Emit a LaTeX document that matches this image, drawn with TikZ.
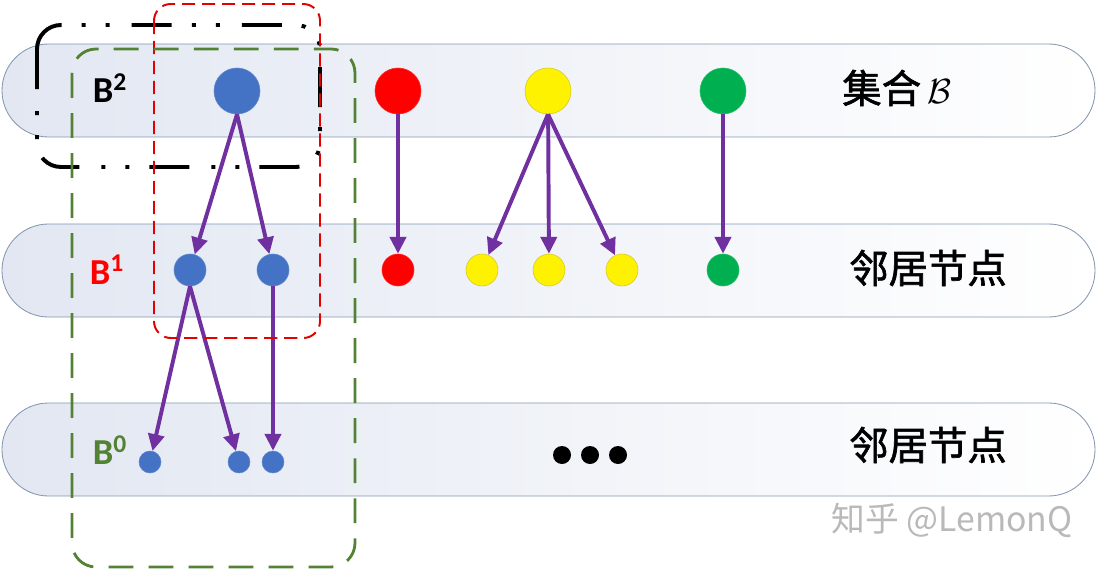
\documentclass[tikz,border=0pt]{standalone}
\usepackage{fontspec}
\usepackage{tikz}
\usetikzlibrary{arrows.meta}
\setmainfont{Carlito}
\newfontfamily\cjk[FakeBold=1.6]{Noto Sans CJK SC}
\newfontfamily\cjkmark{Noto Sans CJK SC}
\definecolor{nodeblue}{HTML}{4472C4}
\definecolor{nodegreen}{HTML}{00B050}
\definecolor{linkpurple}{HTML}{7030A0}
\definecolor{boxgreen}{HTML}{548235}
\definecolor{bandline}{HTML}{8497B0}
\definecolor{bandfill}{HTML}{E2E7F2}
\tikzstyle{band} = [draw = bandline, line width = 0.6pt, left color = bandfill, right color = white, rounded corners = 1.16cm]
\tikzstyle{bignode} = [circle, inner sep = 0pt, minimum size = 1.15cm]
\tikzstyle{midnode} = [circle, inner sep = 0pt, minimum size = 0.8cm]
\tikzstyle{smallnode} = [circle, inner sep = 0pt, minimum size = 0.55cm]
\tikzstyle{dotnode} = [circle, fill = black, inner sep = 0pt, minimum size = 0.45cm]
\tikzstyle{link} = [-{Triangle[length = 4.2mm, width = 4mm]}, draw = linkpurple, line width = 2.8pt]
\tikzstyle{blabel} = [font = \fontsize{26}{30}\selectfont\bfseries]
\tikzstyle{rowtext} = [font = \cjk\fontsize{28}{32}\selectfont]

\begin{document}
\begin{tikzpicture}[x = 0.025cm, y = -0.025cm]
        \useasboundingbox (0, 0) rectangle (1097, 570);
        % rows
        \draw [band] (2, 44) rectangle (1095, 137);
        \draw [band] (2, 224) rectangle (1095, 317);
        \draw [band] (2, 403) rectangle (1095, 496);
        % set B
        \node (s2) at (237, 91) [bignode, fill = nodeblue, draw = nodeblue!85!white] {};
        \node (r2) at (398, 91) [bignode, fill = red, draw = red!85!white] {};
        \node (y2) at (548, 91) [bignode, fill = yellow, draw = yellow!80!black] {};
        \node (g2) at (723, 91) [bignode, fill = nodegreen, draw = nodegreen!85!white] {};
        % neighbours
        \node (s1a) at (190, 270) [midnode, fill = nodeblue, draw = nodeblue!85!white] {};
        \node (s1b) at (273, 270) [midnode, fill = nodeblue, draw = nodeblue!85!white] {};
        \node (r1) at (398, 270) [midnode, fill = red, draw = red!85!white] {};
        \node (y1a) at (482, 270) [midnode, fill = yellow, draw = yellow!80!black] {};
        \node (y1b) at (549, 270) [midnode, fill = yellow, draw = yellow!80!black] {};
        \node (y1c) at (622, 270) [midnode, fill = yellow, draw = yellow!80!black] {};
        \node (g1) at (723, 270) [midnode, fill = nodegreen, draw = nodegreen!85!white] {};
        % neighbours of neighbours
        \node (s0a) at (150, 462) [smallnode, fill = nodeblue, draw = nodeblue!85!white] {};
        \node (s0b) at (239, 462) [smallnode, fill = nodeblue, draw = nodeblue!85!white] {};
        \node (s0c) at (273, 462) [smallnode, fill = nodeblue, draw = nodeblue!85!white] {};
        \node (d1) at (562, 455) [dotnode] {};
        \node (d2) at (590, 455) [dotnode] {};
        \node (d3) at (618, 455) [dotnode] {};
        \draw [link] (s2.south) -- (s1a);
        \draw [link] (s2.south) -- (s1b);
        \draw [link] (r2) -- (r1);
        \draw [link] (y2.south) -- (y1a);
        \draw [link] (y2) -- (y1b);
        \draw [link] (y2.south) -- (y1c);
        \draw [link] (g2) -- (g1);
        \draw [link] (s1a.south) -- (s0a);
        \draw [link] (s1a.south) -- (s0b);
        \draw [link] (s1b) -- (s0c);
        % hops
        \draw [line width = 2.8pt, rounded corners = 0.6cm, dash pattern = on 1cm off 0.55cm on 0.1cm off 0.5cm on 0.1cm off 0.5cm] (37, 25) rectangle (320, 167);
        \draw [red!90!black, line width = 1.4pt, rounded corners = 0.42cm, dash pattern = on 0.33cm off 0.17cm] (154, 4) rectangle (320, 338);
        \draw [boxgreen, line width = 2pt, rounded corners = 0.6cm, dash pattern = on 0.62cm off 0.38cm] (72, 49) rectangle (355, 567);
        \node (l2) at (110, 88) [blabel] {B\textsuperscript{2}};
        \node (l1) at (107, 270) [blabel, text = red] {B\textsuperscript{1}};
        \node (l0) at (110, 450) [blabel, text = boxgreen] {B\textsuperscript{0}};
        \node (t2) at (897, 88) [rowtext] {集合\,$\mathcal{B}$};
        \node (t1) at (928, 268) [rowtext] {邻居节点};
        \node (t0) at (928, 445) [rowtext] {邻居节点};
        \node (wm) at (952, 520) [font = \cjkmark\fontsize{24}{28}\selectfont, text = gray!55] {知乎 @LemonQ};
    \end{tikzpicture}
\end{document}
